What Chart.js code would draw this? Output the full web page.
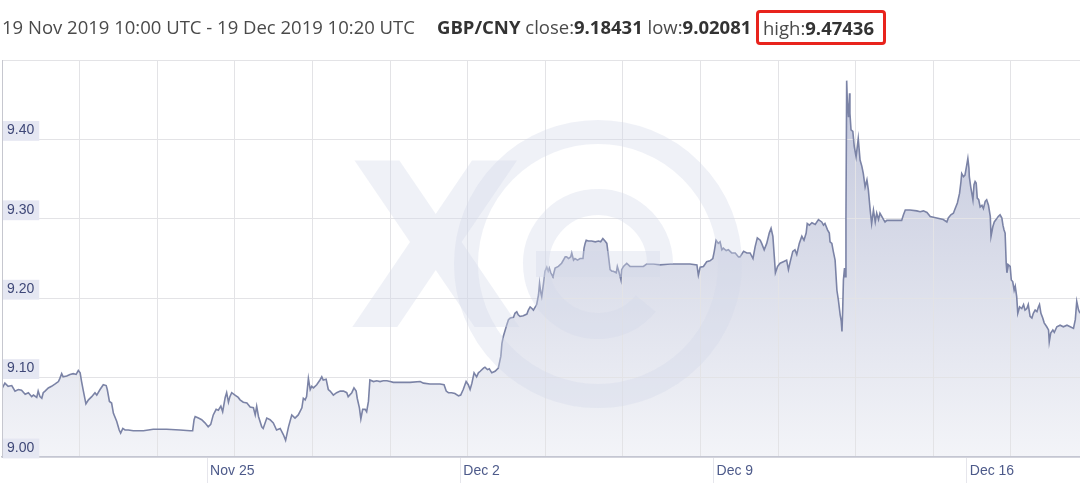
<!DOCTYPE html>
<html>
<head>
<meta charset="utf-8">
<script src="https://cdn.jsdelivr.net/npm/chart.js@4.4.0/dist/chart.umd.min.js"></script>
<style>
  body { margin: 0; background: #fff; font-family: 'Open Sans', sans-serif; }
  #wrap { position: relative; width: 1080px; height: 489px; overflow: hidden; }
  canvas { position: absolute; left: 0; top: 0; }
  .hd { position: absolute; top: 15px; line-height: 24px; font-size: 18.5px; color: #4a4a4a; white-space: nowrap; }
  .hd b { color: #333; font-weight: 700; }
  #hi { left: 756px; top: 10px; width: 130px; height: 35px; box-sizing: border-box;
        border: 3px solid #e8231c; border-radius: 4px; line-height: 29px; padding-left: 4px; }
</style>
</head>
<body>
<div id="wrap">
  <canvas id="fxChart" width="1080" height="489"></canvas>
  <div class="hd" style="left:2px">19 Nov 2019 10:00 UTC - 19 Dec 2019 10:20 UTC</div>
  <div class="hd" style="left:437px"><b>GBP/CNY</b> close:<b>9.18431</b> low:<b>9.02081</b></div>
  <div class="hd" id="hi">high:<b>9.47436</b></div>
</div>
<script>
// days since 19 Nov 2019 00:00 UTC
const days = [
  0.33, 0.41, 0.50, 0.60, 0.69, 0.78, 0.87, 0.97, 1.06, 1.15, 1.20, 1.29, 1.33, 1.38, 1.43, 1.47, 1.52, 1.61, 1.70, 1.80,
  1.89, 1.93, 1.98, 2.02, 2.12, 2.21, 2.30, 2.38, 2.44, 2.49, 2.53, 2.58, 2.65, 2.72, 2.81, 2.90, 2.95, 3.04, 3.13, 3.21,
  3.24, 3.30, 3.36, 3.41, 3.50, 3.57, 3.61, 3.67, 3.73, 3.82, 3.96, 4.24, 4.51, 4.88, 5.25, 5.53, 5.60, 5.64, 5.67, 5.76,
  5.85, 5.94, 6.03, 6.10, 6.17, 6.25, 6.31, 6.38, 6.43, 6.50, 6.54, 6.59, 6.63, 6.68, 6.77, 6.86, 6.91, 7.00, 7.10,
  7.19, 7.28, 7.33, 7.37, 7.42, 7.51, 7.55, 7.65, 7.74, 7.83, 7.92, 8.02, 8.11, 8.17, 8.25, 8.34, 8.43, 8.52, 8.62, 8.66,
  8.71, 8.75, 8.80, 8.85, 8.89, 8.94, 9.03, 9.12, 9.17, 9.21, 9.29, 9.35, 9.40, 9.49, 9.58, 9.68, 9.77, 9.86, 9.90, 10.00,
  10.06, 10.12, 10.15, 10.21, 10.25, 10.30, 10.37, 10.41, 10.46, 10.50, 10.60, 10.69, 10.78, 10.87, 10.97, 11.06, 11.15, 11.33, 11.61, 11.89,
  11.98, 12.16, 12.44, 12.55, 12.61, 12.67, 12.76, 12.85, 12.95, 13.01, 13.08, 13.16, 13.22, 13.27, 13.32, 13.38, 13.45, 13.50, 13.55, 13.64,
  13.68, 13.75, 13.80, 13.87, 13.96, 14.05, 14.12,
  14.15, 14.19, 14.28, 14.33, 14.38, 14.47, 14.51, 14.56, 14.60, 14.65, 14.74, 14.84, 14.88, 14.93, 14.98, 15.02, 15.11, 15.16, 15.19, 15.22,
  15.25, 15.30, 15.34, 15.39, 15.43, 15.46, 15.50, 15.56, 15.62, 15.71, 15.80, 15.90, 15.94, 15.99, 16.05, 16.08, 16.13, 16.17, 16.24, 16.31,
  16.39, 16.42, 16.45, 16.48, 16.54, 16.63, 16.73, 16.82, 16.88, 16.94, 17.00, 17.05, 17.09, 17.14, 17.19, 17.23, 17.31, 17.34, 17.38, 17.44,
  17.46, 17.51, 17.60, 17.69, 17.88, 18.06, 18.15, 18.34, 18.52, 18.80, 18.98, 19.35, 19.54, 19.58, 19.63, 19.72, 19.81, 19.90, 19.98, 20.02,
  20.07, 20.13, 20.18, 20.23, 20.27, 20.35, 20.41, 20.50, 20.60, 20.69,
  20.73, 20.83, 20.92, 21.01, 21.09, 21.15, 21.21, 21.29, 21.33, 21.40, 21.47, 21.54, 21.59, 21.64, 21.68, 21.71, 21.77, 21.84, 21.93, 22.02,
  22.07, 22.12, 22.19, 22.25, 22.30, 22.37, 22.44, 22.50, 22.56, 22.59, 22.65, 22.72, 22.81, 22.90, 22.99, 23.04, 23.08, 23.15, 23.20, 23.22,
  23.27, 23.31, 23.36, 23.41, 23.45, 23.50, 23.53, 23.55, 23.57, 23.59, 23.62, 23.64, 23.66, 23.68, 23.70, 23.73, 23.76, 23.77, 23.80, 23.85,
  23.89, 23.94, 24.00, 24.05, 24.10, 24.14, 24.19, 24.24, 24.28, 24.33, 24.37, 24.42, 24.47, 24.51, 24.56,
  24.60, 24.65, 24.70, 24.74, 24.79, 24.97, 25.20, 25.25, 25.30, 25.43, 25.62, 25.71, 25.80, 25.90, 25.99, 26.17, 26.35, 26.45, 26.49, 26.56,
  26.63, 26.68, 26.74, 26.80, 26.84, 26.86, 26.91, 26.95, 27.00, 27.03, 27.06, 27.07, 27.11, 27.14, 27.17, 27.20, 27.23, 27.26, 27.29, 27.33,
  27.37, 27.42, 27.46, 27.51, 27.55, 27.60, 27.65, 27.67, 27.72, 27.76, 27.81, 27.87, 27.92, 27.97, 28.00, 28.03, 28.06, 28.09, 28.11, 28.15,
  28.20, 28.23, 28.27, 28.31, 28.34, 28.38, 28.41, 28.46, 28.52, 28.57, 28.61, 28.66, 28.70, 28.75, 28.80, 28.84, 28.89, 28.94, 28.98, 29.01,
  29.05, 29.10, 29.14, 29.21, 29.26, 29.28, 29.32, 29.38, 29.42, 29.49, 29.58, 29.67, 29.77, 29.86, 29.95, 30.00, 30.04, 30.09, 30.13
];

// GBP/CNY rate
const rates = [
  9.086, 9.093, 9.089, 9.090, 9.083, 9.085, 9.084, 9.079, 9.081, 9.076, 9.078, 9.075, 9.083, 9.076, 9.074, 9.081, 9.083, 9.087, 9.089, 9.092,
  9.095, 9.099, 9.105, 9.101, 9.102, 9.104, 9.105, 9.104, 9.109, 9.106, 9.095, 9.083, 9.067, 9.072, 9.076, 9.081, 9.078, 9.085, 9.091, 9.090,
  9.085, 9.070, 9.068, 9.055, 9.045, 9.034, 9.030, 9.036, 9.034, 9.034, 9.033, 9.033, 9.035, 9.035, 9.034, 9.033, 9.033, 9.047, 9.051, 9.049,
  9.047, 9.043, 9.038, 9.041, 9.053, 9.060, 9.059, 9.064, 9.057, 9.075, 9.081, 9.069, 9.076, 9.081, 9.078, 9.075, 9.072, 9.069, 9.068,
  9.063, 9.062, 9.053, 9.064, 9.051, 9.038, 9.036, 9.049, 9.047, 9.043, 9.034, 9.036, 9.028, 9.021, 9.038, 9.053, 9.049, 9.053, 9.062, 9.074,
  9.072, 9.076, 9.099, 9.085, 9.089, 9.087, 9.091, 9.097, 9.101, 9.097, 9.098, 9.085, 9.083, 9.078, 9.081, 9.083, 9.083, 9.081, 9.076, 9.081,
  9.087, 9.083, 9.074, 9.062, 9.048, 9.060, 9.060, 9.057, 9.070, 9.097, 9.095, 9.096, 9.095, 9.096, 9.096, 9.095, 9.094, 9.094, 9.094, 9.095,
  9.093, 9.092, 9.092, 9.091, 9.083, 9.081, 9.081, 9.080, 9.077, 9.078, 9.085, 9.095, 9.091, 9.085, 9.093, 9.106, 9.101, 9.106, 9.108, 9.112,
  9.113, 9.110, 9.111, 9.106, 9.108, 9.112, 9.127,
  9.143, 9.152, 9.166, 9.173, 9.175, 9.176, 9.181, 9.183, 9.179, 9.177, 9.178, 9.180, 9.185, 9.189, 9.187, 9.185, 9.192, 9.204, 9.219, 9.208,
  9.202, 9.219, 9.234, 9.239, 9.234, 9.238, 9.232, 9.227, 9.238, 9.240, 9.244, 9.252, 9.252, 9.250, 9.252, 9.257, 9.248, 9.250, 9.248, 9.250,
  9.250, 9.263, 9.269, 9.273, 9.272, 9.272, 9.271, 9.272, 9.271, 9.275, 9.272, 9.269, 9.255, 9.236, 9.234, 9.234, 9.232, 9.240, 9.234, 9.223,
  9.236, 9.240, 9.244, 9.240, 9.240, 9.240, 9.243, 9.243, 9.242, 9.243, 9.243, 9.243, 9.242, 9.229, 9.239, 9.240, 9.246, 9.247, 9.250, 9.259,
  9.273, 9.269, 9.271, 9.261, 9.263, 9.260, 9.261, 9.257, 9.257, 9.252,
  9.252, 9.259, 9.257, 9.257, 9.250, 9.265, 9.276, 9.273, 9.269, 9.261, 9.269, 9.282, 9.288, 9.278, 9.252, 9.232, 9.240, 9.244, 9.246, 9.248,
  9.236, 9.246, 9.259, 9.261, 9.255, 9.269, 9.278, 9.273, 9.282, 9.294, 9.292, 9.295, 9.293, 9.299, 9.296, 9.292, 9.294, 9.286, 9.282, 9.271,
  9.269, 9.259, 9.248, 9.210, 9.198, 9.179, 9.171, 9.158, 9.185, 9.223, 9.238, 9.227, 9.299, 9.474, 9.445, 9.428, 9.458, 9.433, 9.412, 9.410,
  9.391, 9.378, 9.401, 9.374, 9.366, 9.357, 9.340, 9.349, 9.336, 9.311, 9.294, 9.311, 9.296, 9.307, 9.299,
  9.307, 9.303, 9.299, 9.296, 9.298, 9.298, 9.298, 9.305, 9.311, 9.311, 9.310, 9.309, 9.310, 9.308, 9.303, 9.301, 9.299, 9.296, 9.301, 9.305,
  9.307, 9.313, 9.320, 9.332, 9.347, 9.357, 9.353, 9.355, 9.368, 9.376, 9.364, 9.353, 9.340, 9.332, 9.324, 9.343, 9.347, 9.345, 9.326, 9.324,
  9.315, 9.317, 9.313, 9.322, 9.324, 9.317, 9.303, 9.278, 9.290, 9.296, 9.299, 9.303, 9.305, 9.301, 9.292, 9.286, 9.282, 9.244, 9.232, 9.242,
  9.240, 9.223, 9.221, 9.210, 9.215, 9.202, 9.181, 9.189, 9.187, 9.192, 9.185, 9.187, 9.192, 9.177, 9.175, 9.181, 9.185, 9.183, 9.189, 9.192,
  9.181, 9.175, 9.169, 9.164, 9.160, 9.145, 9.156, 9.160, 9.157, 9.164, 9.166, 9.164, 9.166, 9.164, 9.162, 9.173, 9.196, 9.185, 9.181
];

const tickDays = [6, 13, 20, 27];
const tickLabels = ['Nov 25', 'Dec 2', 'Dec 9', 'Dec 16'];
const X_MIN = 0.33, X_MAX = 30.13;
const GRID_STEP = 2.1455;   // vertical grid spacing in days

const axisFont = { family: "'Liberation Sans', Arial, sans-serif", size: 14 };

// grid on top of the fill but under the line, faint XE mark over everything
const layering = {
  id: 'layering',
  beforeDatasetDraw(chart) {
    chart.scales.xg.drawGrid(chart.chartArea);
    chart.scales.y.drawGrid(chart.chartArea);
  },
  afterDatasetsDraw(chart) {
    const c = chart.ctx;
    c.save();
    c.fillStyle = c.strokeStyle = 'rgba(212,216,234,0.36)';
    c.font = 'bold 228px "DejaVu Sans"';
    c.textAlign = 'center';
    c.textBaseline = 'middle';
    c.fillText('X', 436, 268);
    c.lineWidth = 24;
    c.beginPath(); c.arc(598, 264, 132, 0, Math.PI * 2); c.stroke();
    c.lineWidth = 26;
    c.beginPath(); c.arc(598, 264, 62, 0.22 * Math.PI, 2 * Math.PI); c.stroke();
    c.fillRect(536, 251, 124, 26);
    c.restore();
  }
};

const ctx = document.getElementById('fxChart').getContext('2d');
new Chart(ctx, {
  type: 'line',
  data: {
    datasets: [{
      data: days.map((d, i) => ({ x: d, y: rates[i] })),
      borderColor: '#7b83a6',
      borderWidth: 1.6,
      pointRadius: 0,
      tension: 0,
      fill: 'start',
      backgroundColor: c => {
        const a = c.chart.chartArea;
        if (!a) return '#d0d3e4';
        const g = c.chart.ctx.createLinearGradient(0, a.top, 0, a.bottom);
        g.addColorStop(0, '#bfc4da');
        g.addColorStop(1, '#f3f4f8');
        return g;
      }
    }]
  },
  plugins: [layering],
  options: {
    responsive: false,
    animation: false,
    layout: { padding: { left: 2, top: 60, right: 0, bottom: 0 } },
    plugins: { legend: { display: false }, tooltip: { enabled: false } },
    scales: {
      x: {
        type: 'linear',
        position: 'bottom',
        min: X_MIN,
        max: X_MAX,
        afterBuildTicks: s => { s.ticks = tickDays.map(v => ({ value: v })); },
        afterFit: s => { s.height = 32; },
        ticks: {
          align: 'start',
          labelOffset: 3,
          padding: -20,
          autoSkip: false,
          maxRotation: 0,
          color: '#4d5a8a',
          font: axisFont,
          callback: (v, i) => tickLabels[i]
        },
        grid: { drawOnChartArea: false, drawTicks: true, tickLength: 26, color: '#e6e6ec' },
        border: { display: true, color: '#c4c6d2', width: 1.5, z: 1 }
      },
      xg: {
        type: 'linear',
        position: 'top',
        min: X_MIN,
        max: X_MAX,
        afterBuildTicks: s => {
          const t = [];
          for (let v = X_MIN; v <= X_MAX; v += GRID_STEP) t.push({ value: v });
          s.ticks = t;
        },
        afterFit: s => { s.height = 0; },
        ticks: { display: false },
        grid: { color: '#e3e3e6', drawTicks: false },
        border: { display: true, color: '#e3e3e6' }
      },
      y: {
        min: 9.0,
        max: 9.5,
        afterFit: s => { s.width = 0; },
        ticks: { stepSize: 0.1, display: false },
        grid: { color: '#e3e3e6', drawTicks: false },
        border: { color: '#c6c7cf', z: 1 }
      },
      yl: {
        position: 'left',
        min: 9.0,
        max: 9.5,
        afterFit: s => { s.width = 0; },
        afterBuildTicks: s => { s.ticks = s.ticks.filter(t => t.value < 9.45); },
        grid: { display: false },
        border: { display: false },
        ticks: {
          z: 1,
          stepSize: 0.1,
          autoSkip: false,
          mirror: true,
          padding: 5,
          labelOffset: -9,
          color: '#3f4878',
          font: axisFont,
          callback: v => v.toFixed(2),
          showLabelBackdrop: true,
          backdropColor: '#e5e7f2',
          backdropPadding: { left: 4, right: 5, top: 1, bottom: 2 }
        }
      }
    }
  }
});
</script>
</body>
</html>
